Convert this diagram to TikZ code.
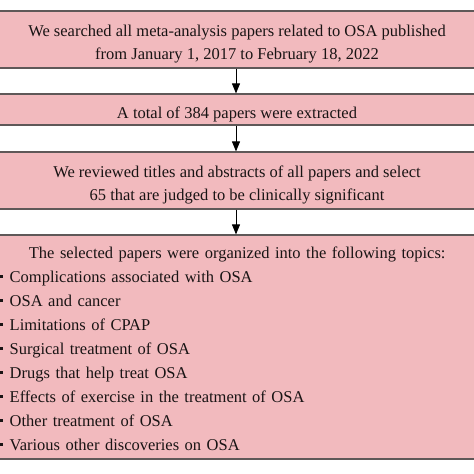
\documentclass[tikz,border=0pt]{standalone}
\usepackage{fontspec}
\setmainfont{Liberation Serif}
\usetikzlibrary{arrows.meta}
\definecolor{boxpink}{RGB}{242,186,190}
\definecolor{edgegray}{RGB}{95,88,88}
\definecolor{inktext}{RGB}{25,20,20}
\newcommand{\blt}{\makebox[9.5pt][l]{\hspace*{-1pt}\rule[4.5pt]{4pt}{3.5pt}}}
\begin{document}
\begin{tikzpicture}[x=1pt,y=-1pt,
  flowbox/.style={draw=edgegray, line width=1.2pt, fill=boxpink, minimum width=500pt, inner sep=0pt},
  flowtext/.style={inner sep=0pt, align=center, text=inktext, font=\fontsize{16.5}{23.5}\selectfont, yshift=-4.5pt},
  flowarrow/.style={draw=black, line width=0.9pt, -{Triangle[length=10pt,width=8pt]}}]
\useasboundingbox (0,0) rectangle (474,474);
\clip (0,0) rectangle (474,474);
\fill[white] (0,0) rectangle (474,474);
\node[flowbox, minimum height=57pt] (b1) at (237,39.5) {};
\node[flowbox, minimum height=31pt] (b2) at (237,109.5) {};
\node[flowbox, minimum height=57pt] (b3) at (237,180.5) {};
\node[flowbox, minimum height=224pt] (b4) at (237,347) {};
\node[flowtext] (t1) at (b1.center) {We searched all meta-analysis papers related to OSA published\\from January 1, 2017 to February 18, 2022};
\node[flowtext] (t2) at (b2.center) {A total of 384 papers were extracted};
\node[flowtext] (t3) at (b3.center) {We reviewed titles and abstracts of all papers and select\\65 that are judged to be clinically significant};
\node[anchor=north west, inner sep=0pt, text width=474pt, align=left, text=inktext,
  font=\fontsize{16.5}{24}\selectfont] (topics) at (0,247)
  {{\centering The selected papers were organized into the following topics:\par}
   \blt Complications associated with OSA\\
   \blt OSA and cancer\\
   \blt Limitations of CPAP\\
   \blt Surgical treatment of OSA\\
   \blt Drugs that help treat OSA\\
   \blt Effects of exercise in the treatment of OSA\\
   \blt Other treatment of OSA\\
   \blt Various other discoveries on OSA};
\coordinate (ax) at (236,0);
\draw[flowarrow] (b1.south -| ax) -- (b2.north -| ax);
\draw[flowarrow] (b2.south -| ax) -- (b3.north -| ax);
\draw[flowarrow] (b3.south -| ax) -- (b4.north -| ax);
\end{tikzpicture}
\end{document}
